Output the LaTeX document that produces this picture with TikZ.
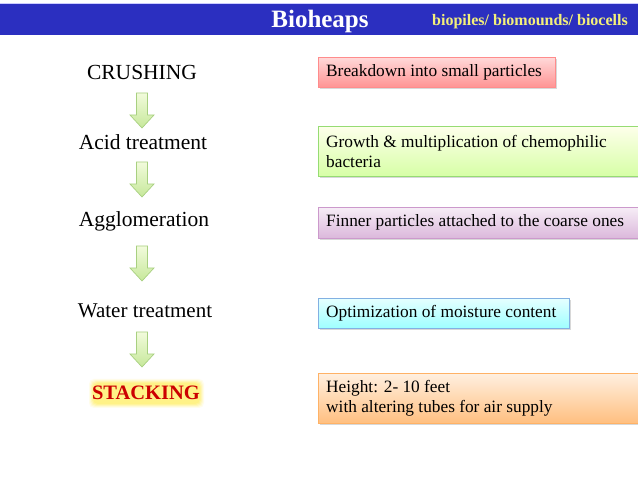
\documentclass[tikz,border=0pt]{standalone}
\usepackage{fontspec}
\setmainfont{Liberation Serif}
\usetikzlibrary{shadows}
\definecolor{banner}{HTML}{2B2FC0}
\definecolor{bannertxt}{HTML}{F4F07A}
\definecolor{arrline}{HTML}{A8D080}
\definecolor{arrtop}{HTML}{F2FBDC}
\definecolor{arrbot}{HTML}{C6E89A}
\definecolor{glow}{HTML}{FFF27A}
\begin{document}
\begin{tikzpicture}[x=1pt,y=-1pt,
  lefttxt/.style={font=\fontsize{21.5}{24}\selectfont, anchor=center, inner sep=0pt},
  arrowshape/.style={draw=arrline, line width=0.7pt, line join=miter,
    top color=arrtop, bottom color=arrbot},
  boxtxt/.style={anchor=west, align=left, font=\fontsize{17.3}{20.5}\selectfont, inner sep=0pt},
  boxshadow/.style={drop shadow={shadow xshift=1.5pt, shadow yshift=-1.5pt, opacity=0.3}},
]
\useasboundingbox (0,0) rectangle (638,478);
\fill[white] (0,0) rectangle (638,478);
% banner
\fill[banner] (0,4) rectangle (638,35);
\draw[blue!20, line width=1pt] (0,3.5) -- (638,3.5);
\node[font=\bfseries\fontsize{25}{28}\selectfont, text=white, inner sep=0pt] (title) at (320,21) {Bioheaps};
\node[font=\bfseries\fontsize{16}{18}\selectfont, text=bannertxt, inner sep=0pt, anchor=west] (sub) at (432,22) {biopiles/ biomounds/ biocells};
% STACKING glow
\foreach \e/\o in {4/0.15, 3/0.2, 2/0.3, 1/0.45, 0/0.6}{
  \fill[glow, opacity=\o, rounded corners=5pt] (93-\e,383-\e) rectangle (200+\e,404+\e);
}
% left steps
\node[lefttxt] (s1) at (142,72) {CRUSHING};
\node[lefttxt] (s2) at (143,142) {Acid treatment};
\node[lefttxt] (s3) at (144,221) {Agglomeration};
\node[lefttxt, font=\fontsize{21}{24}\selectfont] (s4) at (145,311) {Water treatment};
\node[lefttxt, font=\bfseries\fontsize{20.5}{24}\selectfont, text=red!80!black] (s5) at (146,393) {STACKING};
% arrows (block arrows between steps)
\foreach \n/\ty/\by in {a1/93/128, a2/162/197, a3/246/281, a4/332/367}{
  \coordinate (\n t) at (142,\ty);
  \coordinate (\n b) at (142,\by);
  \path[arrowshape] ([xshift=-5.5pt]\n t) -- ([xshift=5.5pt]\n t)
     -- ([xshift=5.5pt,yshift=13pt]\n b) -- ([xshift=12pt,yshift=13pt]\n b)
     -- (\n b) -- ([xshift=-12pt,yshift=13pt]\n b) -- ([xshift=-5.5pt,yshift=13pt]\n b) -- cycle;
}
% boxes
\node[draw=red!45, line width=0.6pt, anchor=north west, inner sep=0pt,
  minimum width=237pt, minimum height=30pt,
  top color=red!15, bottom color=red!42, boxshadow] (b1) at (318,57) {};
\node[boxtxt] (t1) at ([xshift=8pt]b1.west) {Breakdown into small particles};

\node[draw=green!50!olive!55, line width=0.6pt, anchor=north west, inner sep=0pt,
  minimum width=322pt, minimum height=50pt,
  top color=green!8!yellow!8, bottom color=green!45!yellow!35, boxshadow] (b2) at (318,126) {};
\node[boxtxt] (t2) at ([xshift=8pt]b2.west) {Growth \& multiplication of chemophilic\\bacteria};

\node[draw=violet!40, line width=0.6pt, anchor=north west, inner sep=0pt,
  minimum width=322pt, minimum height=31pt,
  top color=violet!7, bottom color=violet!28, boxshadow] (b3) at (318,207) {};
\node[boxtxt] (t3) at ([xshift=8pt]b3.west) {Finner particles attached to the coarse ones};

\node[draw=cyan!60!blue!50, line width=0.6pt, anchor=north west, inner sep=0pt,
  minimum width=251pt, minimum height=30pt,
  top color=cyan!10, bottom color=cyan!38, boxshadow] (b4) at (318,298) {};
\node[boxtxt] (t4) at ([xshift=8pt]b4.west) {Optimization of moisture content};

\node[draw=orange!60, line width=0.6pt, anchor=north west, inner sep=0pt,
  minimum width=322pt, minimum height=50pt,
  top color=orange!12, bottom color=orange!50, boxshadow] (b5) at (318,373) {};
\node[boxtxt] (t5) at ([xshift=8pt]b5.west) {Height: 2- 10 feet\\with altering tubes for air supply};
\end{tikzpicture}
\end{document}
